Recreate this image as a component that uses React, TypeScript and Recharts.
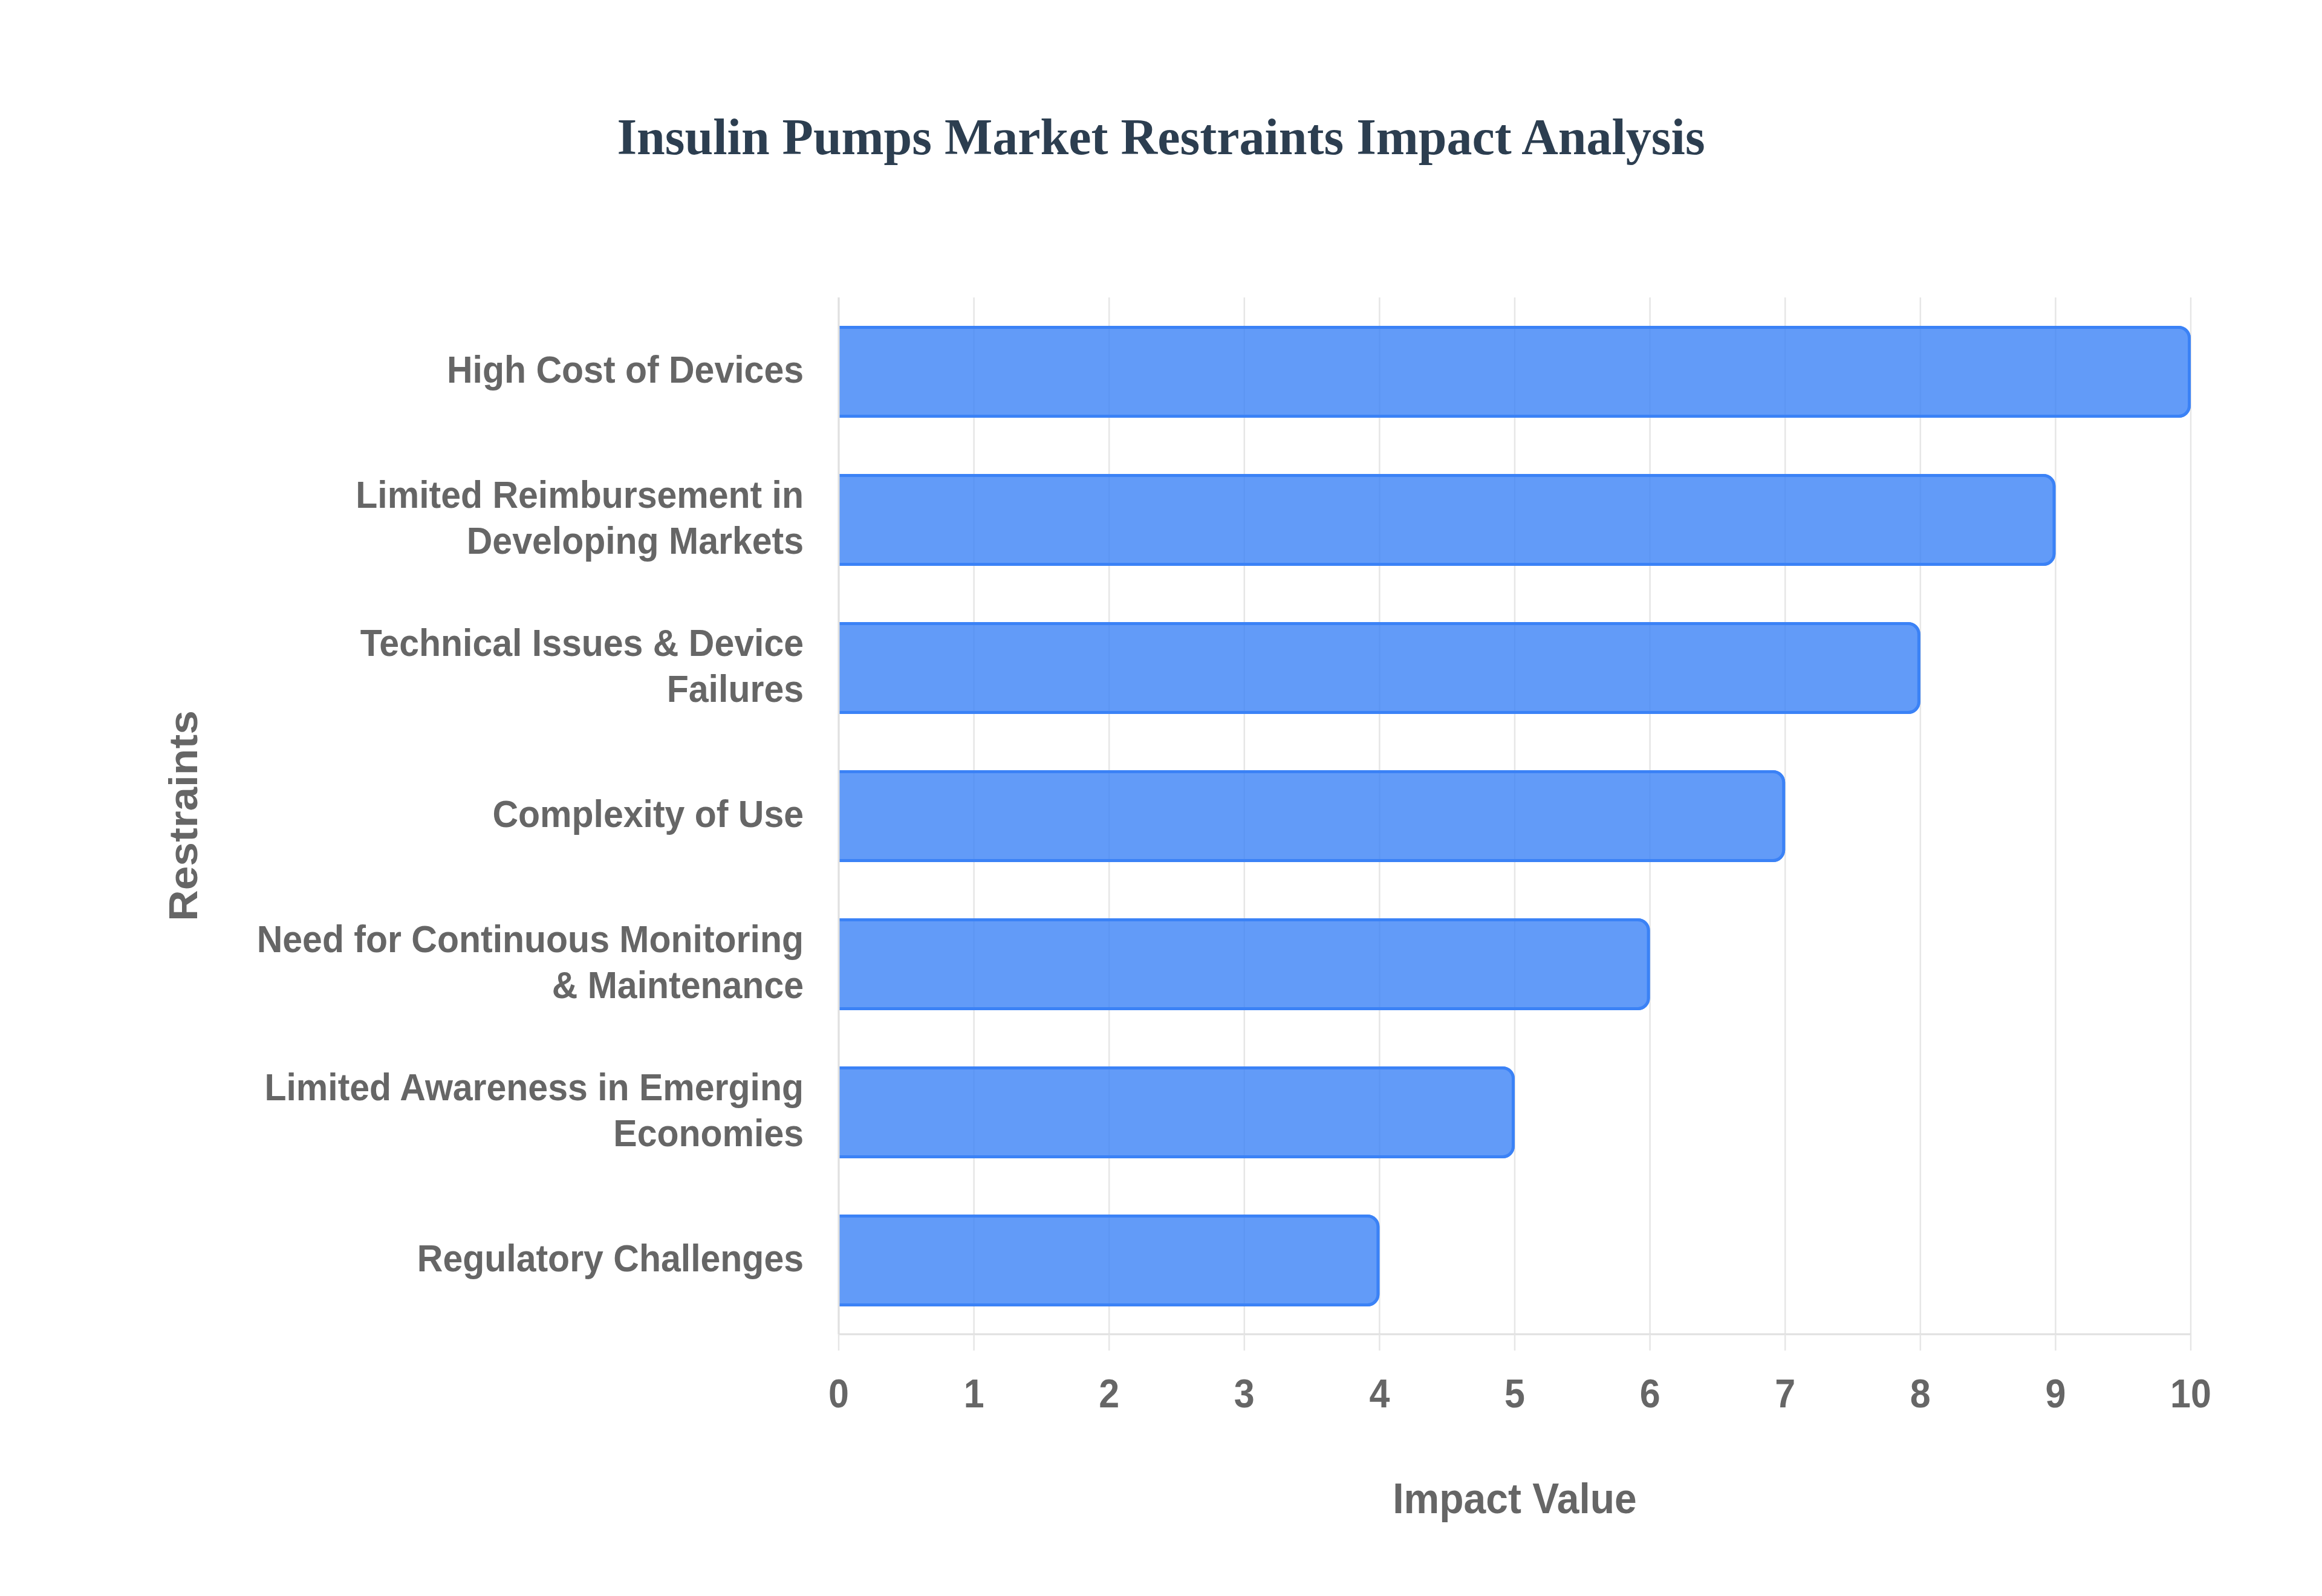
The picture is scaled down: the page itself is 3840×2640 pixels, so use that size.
import React from 'react';
import { BarChart, Bar, XAxis, YAxis, CartesianGrid, Label } from 'recharts';

const restraints: string[] = [
  'High Cost of Devices',
  'Limited Reimbursement in Developing Markets',
  'Technical Issues & Device Failures',
  'Complexity of Use',
  'Need for Continuous Monitoring & Maintenance',
  'Limited Awareness in Emerging Economies',
  'Regulatory Challenges',
];

const restraintLabelLines: string[][] = [
  ['High Cost of Devices'],
  ['Limited Reimbursement in', 'Developing Markets'],
  ['Technical Issues & Device', 'Failures'],
  ['Complexity of Use'],
  ['Need for Continuous Monitoring', '& Maintenance'],
  ['Limited Awareness in Emerging', 'Economies'],
  ['Regulatory Challenges'],
];

const impactValues: number[] = [10, 9, 8, 7, 6, 5, 4];

const xTicks: number[] = [0, 1, 2, 3, 4, 5, 6, 7, 8, 9, 10];

const chartTitle = 'Insulin Pumps Market Restraints Impact Analysis';
const xTitle = 'Impact Value';
const yTitle = 'Restraints';

const data = restraints.map((r, i) => ({ restraint: r, value: impactValues[i], lines: restraintLabelLines[i] }));

const SANS = '"Liberation Sans", Arial, Helvetica, sans-serif';
const SERIF = '"Liberation Serif", "Times New Roman", serif';
const GRAY = '#666666';
const S = 1.08;

const XTick = (props: any) => {
  const { x, y, payload } = props;
  return (
    <text
      transform={`translate(${x} ${y}) scale(1 ${S})`}
      textAnchor="middle"
      fontFamily={SANS}
      fontWeight="bold"
      fontSize={61}
      fill={GRAY}
    >
      {payload.value}
    </text>
  );
};

const YTick = (props: any) => {
  const { x, y, payload } = props;
  const idx = restraints.indexOf(payload.value);
  const lines = idx >= 0 ? restraintLabelLines[idx] : [String(payload.value)];
  const lh = 76;
  const fs = 59;
  const capHalf = 0.358 * fs * S - 4;
  return (
    <g>
      {lines.map((ln, k) => {
        const base = y + (k - (lines.length - 1) / 2) * lh + capHalf;
        return (
          <text
            key={k}
            transform={`translate(${x} ${base}) scale(1 ${S})`}
            textAnchor="end"
            fontFamily={SANS}
            fontWeight="bold"
            fontSize={fs}
            fill={GRAY}
          >
            {ln}
          </text>
        );
      })}
    </g>
  );
};

const BarShape = (props: any) => {
  const { x, y, width, height } = props;
  if (!width || width <= 0) return null;
  const r = Math.min(20, width / 2, height / 2);
  const sw = 5;
  const h = sw / 2;
  const fillPath = `M ${x} ${y} H ${x + width - r} A ${r} ${r} 0 0 1 ${x + width} ${y + r} V ${y + height - r} A ${r} ${r} 0 0 1 ${x + width - r} ${y + height} H ${x} Z`;
  const ri = r - h;
  const borderPath = `M ${x} ${y + h} H ${x + width - r} A ${ri} ${ri} 0 0 1 ${x + width - h} ${y + r} V ${y + height - r} A ${ri} ${ri} 0 0 1 ${x + width - r} ${y + height - h} H ${x}`;
  return (
    <g>
      <path d={fillPath} fill="#3b82f6" fillOpacity={0.8} />
      <path d={borderPath} fill="none" stroke="#3b82f6" strokeWidth={sw} />
    </g>
  );
};

const XTitle = (props: any) => {
  const vb = props.viewBox || {};
  const cx = vb.x + vb.width / 2;
  return (
    <text
      transform={`translate(${cx} ${vb.y + 296}) scale(1 ${S})`}
      textAnchor="middle"
      fontFamily={SANS}
      fontWeight="bold"
      fontSize={66}
      fill={GRAY}
    >
      {xTitle}
    </text>
  );
};

const YTitle = (props: any) => {
  const vb = props.viewBox || {};
  const cy = vb.y + vb.height / 2;
  return (
    <text
      transform={`translate(326 ${cy}) rotate(-90) scale(${S} 1)`}
      textAnchor="middle"
      fontFamily={SANS}
      fontWeight="bold"
      fontSize={66}
      fill={GRAY}
    >
      {yTitle}
    </text>
  );
};

export default function App() {
  return (
    <div style={{ position: 'absolute', left: 0, top: 0, width: 3840, height: 2640, background: '#ffffff' }}>
      <svg width={3840} height={320} style={{ position: 'absolute', left: 0, top: 0 }}>
        <text x={1920} y={255} textAnchor="middle" fontFamily={SERIF} fontWeight="bold" fontSize={84} fill="#2c3e50">
          {chartTitle}
        </text>
      </svg>
      <div style={{ position: 'absolute', left: 0, top: 0 }}>
        <BarChart
          width={3840}
          height={2640}
          data={data}
          layout="vertical"
          margin={{ top: 492, right: 217, bottom: 133, left: 0 }}
          barSize={152}
        >
          <CartesianGrid horizontal={false} vertical={true} stroke="#e6e6e6" strokeWidth={2.5} />
          <XAxis
            type="number"
            domain={[0, 10]}
            ticks={xTicks}
            interval={0}
            height={300}
            axisLine={{ stroke: '#e0e0e0', strokeWidth: 3 }}
            tickLine={{ stroke: '#e6e6e6', strokeWidth: 2.5 }}
            tickSize={27}
            tickMargin={94}
            tick={<XTick />}
          >
            <Label content={<XTitle />} />
          </XAxis>
          <YAxis
            type="category"
            dataKey="restraint"
            width={1387}
            interval={0}
            axisLine={{ stroke: '#e0e0e0', strokeWidth: 3 }}
            tickLine={false}
            tickSize={0}
            tickMargin={58}
            tick={<YTick />}
          >
            <Label content={<YTitle />} />
          </YAxis>
          <Bar dataKey="value" isAnimationActive={false} shape={<BarShape />} />
        </BarChart>
      </div>
    </div>
  );
}
